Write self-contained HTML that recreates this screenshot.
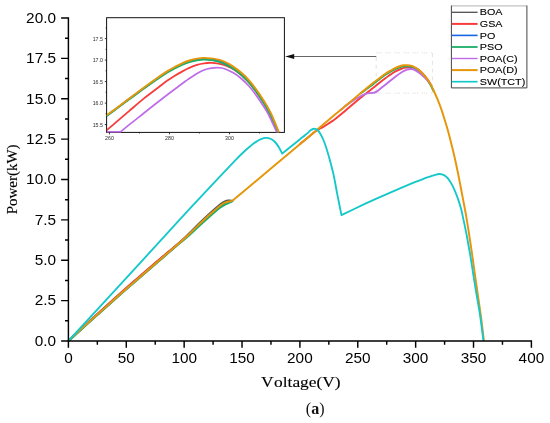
<!DOCTYPE html>
<html lang="en"><head><meta charset="utf-8"><title>P-V curves (a)</title>
<style>
html,body{margin:0;padding:0;background:#fff;}
body{width:550px;height:423px;overflow:hidden;position:relative;}
</style></head><body>
<svg width="550" height="423" viewBox="0 0 550 423" style="position:absolute;left:0;top:0">
<defs><clipPath id="insclip"><rect x="106.6" y="17.7" width="177.8" height="115.0"/></clipPath><clipPath id="mainclip"><rect x="60" y="0" width="480" height="341.2"/></clipPath></defs>
<rect x="0" y="0" width="550" height="423" fill="#fff"/>
<path d="M376.3 52.8H432.4M376.3 93.1H432.4" fill="none" stroke="#dadada" stroke-width="0.8" stroke-dasharray="1.3 0.8 1.3 0.8 1.3 3.6"/>
<path d="M376.2 57V93M432.4 53V93" fill="none" stroke="#dadada" stroke-width="0.8" stroke-dasharray="4 3.8"/>
<g clip-path="url(#mainclip)">
<path d="M68.4 340.6 C72.3 337.0 83.9 326.3 92.0 319.0 C100.1 311.7 109.7 303.1 117.0 296.6 C124.3 290.1 129.7 285.5 136.0 280.0 C142.3 274.5 149.7 268.2 155.0 263.6 C160.3 259.0 163.8 256.0 168.0 252.4 C172.2 248.8 176.6 245.1 180.2 241.9 C183.8 238.7 186.5 235.9 189.3 233.2 C192.1 230.5 193.6 228.8 197.0 225.5 C200.4 222.2 206.2 216.8 210.0 213.3 C213.8 209.8 217.6 206.6 220.0 204.6 C222.4 202.6 223.2 202.3 224.5 201.6 C225.8 200.9 226.9 200.7 228.0 200.5 C229.1 200.3 230.2 200.6 231.0 200.6 C231.8 200.6 232.2 200.6 232.5 200.6" stroke="#505050" stroke-width="1.95" fill="none" stroke-linejoin="round" stroke-linecap="butt"/>
<path d="M68.4 341.0 C72.3 337.3 83.9 326.5 92.0 319.0 C100.1 311.5 109.7 302.8 117.0 296.2 C124.3 289.6 129.7 284.9 136.0 279.4 C142.3 273.9 149.7 267.6 155.0 263.0 C160.3 258.4 163.8 255.6 168.0 252.1 C172.2 248.6 176.6 245.0 180.2 242.0 C183.8 239.0 187.8 235.3 189.3 234.0 M300.0 144.1 C302.3 142.2 311.0 134.8 314.0 132.4 C317.0 130.0 316.7 130.4 318.0 129.6 C319.3 128.8 320.7 128.3 322.0 127.6 C323.3 126.9 324.7 126.0 326.0 125.2 C327.3 124.4 328.8 123.3 330.0 122.6 C331.2 121.8 332.5 121.0 333.0 120.7 C333.8 120.0 336.0 118.4 338.0 116.8 C340.0 115.2 341.3 114.1 345.0 111.0 C348.7 107.9 355.0 102.3 360.0 98.2 C365.0 94.1 370.8 89.7 375.0 86.4 C379.2 83.1 382.5 80.4 385.0 78.5 C387.5 76.6 388.3 76.1 390.0 74.9 C391.7 73.8 393.0 72.7 395.0 71.6 C397.0 70.5 400.0 69.2 402.0 68.5 C404.0 67.8 405.5 67.7 407.0 67.5 C408.5 67.3 409.7 67.2 411.0 67.3 C412.3 67.4 413.5 67.4 415.0 68.0 C416.5 68.6 418.3 69.6 420.0 71.0 C421.7 72.4 423.3 74.2 425.0 76.2 C426.7 78.2 429.2 82.0 430.0 83.2" stroke="#F83C3C" stroke-width="1.95" fill="none" stroke-linejoin="round" stroke-linecap="butt"/>
<path d="M68.4 341.2 C72.3 337.6 83.9 326.9 92.0 319.6 C100.1 312.3 109.7 303.7 117.0 297.2 C124.3 290.7 129.7 286.1 136.0 280.6 C142.3 275.1 149.7 268.8 155.0 264.2 C160.3 259.6 163.8 256.6 168.0 253.0 C172.2 249.4 176.6 245.6 180.2 242.5 C183.8 239.4 187.8 235.6 189.3 234.2 C190.6 233.0 193.6 230.0 197.0 226.7 C200.4 223.4 206.2 218.1 210.0 214.6 C213.8 211.2 217.5 207.9 220.0 206.0 C222.5 204.1 223.6 203.6 225.0 202.9 C226.4 202.2 227.5 202.0 228.5 201.8 C229.5 201.6 230.3 201.7 231.0 201.5 C231.7 201.3 232.2 201.0 232.5 200.9" stroke="#1566E4" stroke-width="1.95" fill="none" stroke-linejoin="round" stroke-linecap="butt"/>
<path d="M68.4 341.5 C72.3 337.9 83.9 327.2 92.0 319.9 C100.1 312.6 109.7 304.0 117.0 297.5 C124.3 291.0 129.7 286.4 136.0 280.9 C142.3 275.4 149.7 269.1 155.0 264.5 C160.3 259.9 163.8 256.9 168.0 253.3 C172.2 249.7 176.6 245.8 180.2 242.8 C183.8 239.8 186.5 237.6 189.3 235.2 C192.1 232.8 193.6 231.2 197.0 228.1 C200.4 224.9 206.2 219.7 210.0 216.3 C213.8 212.9 217.4 209.8 220.0 207.8 C222.6 205.8 223.9 205.2 225.5 204.4 C227.1 203.6 228.4 203.2 229.5 202.7 C230.6 202.2 231.3 201.9 232.0 201.5 C232.7 201.1 233.2 200.5 233.5 200.3 M360.2 93.6 C361.9 92.4 367.9 88.1 370.4 86.3 C372.9 84.5 373.4 83.8 375.1 82.5 C376.8 81.2 378.7 79.8 380.4 78.5 C382.1 77.2 383.4 76.1 385.1 75.0 C386.8 73.9 388.8 72.7 390.5 71.7 C392.2 70.7 393.4 69.9 395.1 69.1 C396.8 68.3 399.0 67.5 400.5 67.0 C402.0 66.5 403.0 66.4 404.1 66.3 C405.2 66.2 406.1 66.2 407.1 66.2 C408.1 66.2 409.1 66.3 410.1 66.5 C411.1 66.7 412.0 66.8 413.1 67.3 C414.2 67.8 415.4 68.4 416.6 69.2 C417.8 70.0 418.7 70.7 420.1 72.0 C421.5 73.3 423.4 75.2 425.1 77.2 C426.8 79.2 428.7 81.9 430.1 84.2 C431.5 86.5 433.5 91.2 433.5 91.0 C433.5 90.8 430.6 84.5 430.0 83.2" stroke="#1AAE69" stroke-width="1.95" fill="none" stroke-linejoin="round" stroke-linecap="butt"/>
<path d="M340.1 110.4 C341.1 109.6 344.0 107.1 346.1 105.5 C348.2 103.9 350.6 102.1 353.0 100.6 C355.4 99.1 358.2 97.6 360.2 96.5 C362.2 95.4 363.5 94.8 365.0 94.2 C366.5 93.6 367.5 93.3 369.0 93.1 C370.5 92.9 373.2 92.8 374.0 92.8 C374.5 92.6 376.0 92.0 377.0 91.4 C378.0 90.8 378.7 90.1 380.0 89.0 C381.3 87.9 383.3 86.3 385.0 85.0 C386.7 83.7 388.3 82.3 390.0 81.0 C391.7 79.7 393.0 78.5 395.0 77.0 C397.0 75.5 400.0 73.2 402.0 72.0 C404.0 70.8 405.5 70.1 407.0 69.6 C408.5 69.1 409.7 68.9 411.0 69.0 C412.3 69.1 413.5 69.3 415.0 70.0 C416.5 70.7 418.5 72.3 420.0 73.4 C421.5 74.5 422.8 75.7 424.0 76.8 C425.2 77.9 426.0 78.7 427.0 79.8 C428.0 80.9 429.5 82.7 430.0 83.3" stroke="#BE6CE8" stroke-width="1.95" fill="none" stroke-linejoin="round" stroke-linecap="butt"/>
<path d="M68.4 341.0 C72.3 337.4 83.9 326.7 92.0 319.4 C100.1 312.1 109.7 303.5 117.0 297.0 C124.3 290.5 129.7 285.9 136.0 280.4 C142.3 274.9 149.7 268.6 155.0 264.0 C160.3 259.4 163.8 256.4 168.0 252.8 C172.2 249.2 176.6 245.4 180.2 242.3 C183.8 239.2 187.8 235.4 189.3 234.0 C190.6 232.7 193.6 229.7 197.0 226.4 C200.4 223.1 206.2 217.8 210.0 214.3 C213.8 210.9 217.5 207.6 220.0 205.7 C222.5 203.8 223.6 203.3 225.0 202.6 C226.4 201.9 227.5 201.7 228.5 201.5 C229.5 201.3 230.3 201.3 231.0 201.2 C231.7 201.0 232.2 200.7 232.5 200.6 C234.6 198.9 234.4 199.2 245.0 190.3 C255.6 181.4 283.5 157.9 296.0 147.4 C308.5 136.9 313.5 132.7 320.0 127.2 C326.5 121.7 330.8 118.0 335.0 114.5 C339.2 111.0 340.8 109.8 345.0 106.3 C349.2 102.8 356.0 97.1 360.2 93.6 C364.4 90.1 367.8 87.3 370.3 85.3 C372.8 83.3 373.3 82.8 375.0 81.5 C376.7 80.2 378.6 78.8 380.3 77.5 C382.0 76.2 383.3 75.1 385.0 74.0 C386.7 72.9 388.7 71.7 390.4 70.7 C392.1 69.7 393.3 68.9 395.0 68.1 C396.7 67.3 398.9 66.5 400.4 66.0 C401.9 65.5 402.9 65.4 404.0 65.3 C405.1 65.2 406.0 65.2 407.0 65.2 C408.0 65.2 409.0 65.3 410.0 65.5 C411.0 65.7 411.9 65.8 413.0 66.3 C414.1 66.8 415.3 67.4 416.5 68.2 C417.7 69.0 418.6 69.7 420.0 71.0 C421.4 72.3 423.3 74.2 425.0 76.2 C426.7 78.2 428.6 80.9 430.0 83.2 C431.4 85.5 432.1 87.2 433.4 90.0 C434.7 92.8 436.5 96.8 437.9 100.2 C439.3 103.6 440.5 107.0 441.7 110.4 C442.9 113.8 443.8 117.1 444.9 120.6 C446.0 124.1 447.1 127.5 448.1 131.2 C449.1 134.8 450.0 138.4 451.0 142.5 C452.0 146.6 453.2 151.3 454.3 156.0 C455.4 160.7 456.4 165.3 457.5 170.7 C458.6 176.1 460.0 183.2 461.0 188.5 C462.0 193.8 462.8 198.1 463.7 202.8 C464.6 207.5 465.5 212.2 466.3 216.8 C467.1 221.4 467.9 226.2 468.5 230.3 C469.1 234.4 469.5 236.9 470.2 241.5 C470.9 246.1 471.8 252.2 472.6 257.9 C473.4 263.6 474.3 270.0 475.1 275.8 C475.9 281.6 476.6 285.9 477.5 292.5 C478.4 299.1 479.7 307.4 480.8 315.5 C481.9 323.6 483.4 336.8 483.9 341.0" stroke="#E6960A" stroke-width="1.95" fill="none" stroke-linejoin="round" stroke-linecap="butt"/>
<path d="M68.4 341.0 C81.2 327.1 126.6 277.7 145.0 257.6 C163.4 237.5 169.0 231.3 179.0 220.4 C189.0 209.5 197.3 200.6 205.0 192.4 C212.7 184.2 220.0 176.5 225.0 171.2 C230.0 165.9 231.7 164.0 235.0 160.6 C238.3 157.2 242.3 153.3 245.0 150.8 C247.7 148.3 249.2 147.1 251.0 145.6 C252.8 144.1 254.3 143.0 256.0 141.9 C257.7 140.8 259.3 139.9 261.0 139.2 C262.7 138.5 264.3 137.9 266.0 137.9 C267.7 137.9 269.5 138.3 271.0 139.0 C272.5 139.7 273.7 140.6 275.0 142.0 C276.3 143.4 277.8 145.6 279.0 147.5 C280.2 149.4 281.7 152.6 282.2 153.6 C283.5 152.5 287.0 149.6 290.0 147.2 C293.0 144.8 297.5 141.2 300.0 139.2 C302.5 137.2 303.7 136.3 305.0 135.2 C306.3 134.1 307.0 133.5 308.0 132.7 C309.0 131.8 310.2 130.7 311.0 130.1 C311.8 129.5 312.4 129.2 313.0 129.0 C313.6 128.8 314.0 128.7 314.5 128.7 C315.0 128.7 315.5 128.8 316.0 129.0 C316.5 129.2 316.8 129.3 317.5 130.0 C318.2 130.7 319.1 131.7 320.0 133.2 C320.9 134.7 322.0 136.7 323.0 139.0 C324.0 141.3 325.0 144.0 326.0 147.0 C327.0 150.0 328.1 153.8 329.0 157.0 C329.9 160.2 330.6 163.0 331.5 166.4 C332.4 169.8 333.2 172.7 334.1 177.2 C335.0 181.7 336.2 188.6 337.1 193.3 C338.0 198.0 338.8 201.7 339.5 205.3 C340.2 209.0 341.2 213.5 341.5 215.2 C343.8 214.1 349.6 211.2 355.2 208.5 C360.8 205.8 368.6 202.2 375.3 199.2 C382.0 196.2 388.7 193.3 395.4 190.4 C402.1 187.5 410.6 183.9 415.5 181.9 C420.4 179.9 422.6 179.1 425.0 178.2 C427.4 177.3 428.3 177.2 430.0 176.6 C431.7 176.0 433.5 175.2 435.1 174.8 C436.7 174.4 438.1 173.9 439.6 174.0 C441.1 174.1 442.6 174.4 444.0 175.1 C445.4 175.8 446.6 176.8 447.9 178.3 C449.2 179.8 450.6 182.2 451.7 184.1 C452.8 186.0 453.2 187.1 454.3 189.6 C455.4 192.1 456.9 195.6 458.0 198.9 C459.1 202.2 460.2 205.6 461.2 209.2 C462.1 212.8 462.8 216.7 463.7 220.7 C464.6 224.7 465.6 229.8 466.3 233.4 C467.0 237.0 467.3 238.4 468.0 242.5 C468.7 246.6 469.8 252.3 470.7 257.9 C471.6 263.4 472.6 270.0 473.5 275.8 C474.4 281.6 475.1 285.9 476.2 292.5 C477.3 299.1 478.9 307.4 480.1 315.5 C481.3 323.6 482.9 336.8 483.5 341.0" stroke="#14C8CA" stroke-width="1.85" fill="none" stroke-linejoin="round" stroke-linecap="butt"/>
</g>
<rect x="106.6" y="17.7" width="177.8" height="114.7" fill="#fff" stroke="none"/>
<rect x="106.6" y="17.7" width="177.8" height="114.7" fill="none" stroke="#111" stroke-width="1.0"/>
<g clip-path="url(#insclip)">
<path d="M106.6 130.4 C107.9 129.2 110.9 126.7 114.7 123.4 C118.5 120.2 124.4 115.1 129.3 110.9 C134.2 106.7 139.1 102.4 144.0 98.4 C148.9 94.5 154.8 90.1 158.6 87.2 C162.4 84.3 164.4 82.6 167.0 80.8 C169.6 79.0 171.5 77.7 174.0 76.2 C176.5 74.7 179.4 73.0 182.0 71.6 C184.6 70.2 186.8 69.0 189.3 67.9 C191.8 66.8 194.6 65.7 197.0 64.9 C199.4 64.1 201.6 63.6 204.0 63.3 C206.4 62.9 208.9 62.7 211.3 62.8 C213.7 62.9 216.2 63.2 218.6 63.7 C221.0 64.2 224.0 65.1 225.9 65.7 C227.8 66.3 228.5 66.8 230.0 67.5 C231.5 68.2 232.7 68.6 234.7 70.0 C236.7 71.4 239.6 73.5 242.0 75.7 C244.4 77.9 246.9 80.1 249.3 82.9 C251.7 85.7 254.2 89.0 256.6 92.4 C259.1 95.8 261.9 100.2 264.0 103.5 C266.1 106.8 267.3 109.3 268.9 112.5 C270.5 115.7 272.3 119.1 273.8 122.4 C275.3 125.7 277.3 130.7 278.0 132.4" stroke="#F83C3C" stroke-width="1.8" fill="none" stroke-linejoin="round" stroke-linecap="butt"/>
<path d="M106.6 115.7 C107.9 114.7 110.9 112.6 114.7 109.8 C118.5 107.0 124.4 102.4 129.3 98.8 C134.2 95.2 139.1 91.5 144.0 88.0 C148.9 84.5 154.8 80.3 158.6 77.6 C162.4 74.9 164.3 73.7 167.0 72.0 C169.7 70.3 172.2 69.0 174.7 67.7 C177.2 66.4 179.6 65.1 182.0 64.0 C184.4 62.9 186.8 62.1 189.3 61.3 C191.8 60.5 194.6 59.8 197.0 59.4 C199.4 59.0 201.6 58.7 204.0 58.7 C206.4 58.7 208.9 58.9 211.3 59.2 C213.7 59.5 216.2 59.9 218.6 60.6 C221.0 61.3 223.3 62.2 225.9 63.5 C228.5 64.8 231.3 66.4 234.0 68.2 C236.7 70.0 239.4 72.2 242.0 74.4 C244.6 76.7 246.9 78.9 249.3 81.7 C251.7 84.5 254.2 87.7 256.6 91.1 C259.1 94.5 261.8 98.7 264.0 102.2 C266.2 105.8 268.0 109.1 269.7 112.4 C271.4 115.8 272.9 119.0 274.3 122.3 C275.8 125.6 277.7 130.7 278.4 132.4" stroke="#1566E4" stroke-width="1.8" fill="none" stroke-linejoin="round" stroke-linecap="butt"/>
<path d="M106.6 116.1 C107.9 115.1 110.9 113.0 114.7 110.2 C118.5 107.4 124.4 102.9 129.3 99.3 C134.2 95.7 139.1 92.0 144.0 88.5 C148.9 85.0 154.8 80.8 158.6 78.2 C162.4 75.6 164.3 74.3 167.0 72.7 C169.7 71.1 172.2 69.7 174.7 68.4 C177.2 67.1 179.6 65.8 182.0 64.8 C184.4 63.8 186.8 62.9 189.3 62.1 C191.8 61.4 194.6 60.7 197.0 60.3 C199.4 59.9 201.6 59.6 204.0 59.6 C206.4 59.6 208.9 59.7 211.3 60.0 C213.7 60.3 216.2 60.8 218.6 61.6 C221.0 62.4 223.2 63.2 225.9 64.6 C228.6 65.9 232.0 67.9 234.7 69.7 C237.4 71.5 239.6 73.4 242.0 75.6 C244.4 77.8 246.9 80.0 249.3 82.8 C251.7 85.6 254.2 88.9 256.6 92.3 C259.1 95.7 261.9 100.1 264.0 103.4 C266.1 106.8 267.3 109.2 268.9 112.4 C270.5 115.6 272.3 119.0 273.8 122.3 C275.3 125.6 277.3 130.7 278.0 132.4" stroke="#1AAE69" stroke-width="1.9" fill="none" stroke-linejoin="round" stroke-linecap="butt"/>
<path d="M106.6 131.9 C108.9 131.9 118.2 131.9 120.5 131.9 C122.0 130.7 125.4 127.9 129.3 124.7 C133.2 121.5 139.1 116.9 144.0 113.0 C148.9 109.1 153.7 105.3 158.6 101.5 C163.5 97.7 168.9 93.6 173.3 90.3 C177.7 87.0 182.3 83.5 185.0 81.5 C187.7 79.5 187.4 79.8 189.3 78.5 C191.2 77.2 194.2 75.1 196.6 73.7 C199.0 72.3 201.6 70.9 204.0 70.0 C206.4 69.1 209.1 68.6 211.3 68.2 C213.5 67.8 215.3 67.7 217.1 67.7 C218.9 67.7 220.5 67.8 222.0 68.0 C223.5 68.2 224.0 68.4 225.9 69.2 C227.8 70.0 231.0 71.4 233.3 72.8 C235.7 74.2 237.3 75.2 240.0 77.5 C242.7 79.8 246.5 83.4 249.3 86.5 C252.1 89.6 254.2 92.6 256.6 96.0 C259.1 99.4 262.2 104.3 264.0 107.0 C265.8 109.7 265.9 109.9 267.3 112.4 C268.7 115.0 270.6 119.0 272.2 122.3 C273.8 125.6 276.1 130.7 276.9 132.4" stroke="#BE6CE8" stroke-width="1.7" fill="none" stroke-linejoin="round" stroke-linecap="butt"/>
<path d="M106.6 115.3 C107.9 114.3 110.9 112.2 114.7 109.4 C118.5 106.6 124.4 102.1 129.3 98.4 C134.2 94.8 139.1 91.1 144.0 87.5 C148.9 83.9 154.8 79.7 158.6 77.0 C162.4 74.3 164.3 73.1 167.0 71.4 C169.7 69.7 172.2 68.3 174.7 67.0 C177.2 65.7 179.6 64.4 182.0 63.3 C184.4 62.2 186.8 61.3 189.3 60.5 C191.8 59.7 194.6 59.0 197.0 58.6 C199.4 58.2 201.6 57.9 204.0 57.9 C206.4 57.9 208.9 58.1 211.3 58.4 C213.7 58.7 216.2 59.0 218.6 59.7 C221.0 60.4 223.4 61.2 225.9 62.4 C228.4 63.5 230.6 64.8 233.3 66.6 C236.0 68.4 239.3 71.0 242.0 73.3 C244.7 75.6 246.9 77.8 249.3 80.6 C251.7 83.4 254.2 86.6 256.6 90.0 C259.1 93.4 261.7 97.3 264.0 101.0 C266.3 104.7 268.7 108.9 270.5 112.4 C272.3 116.0 273.5 119.0 274.9 122.3 C276.3 125.6 278.2 130.7 278.9 132.4" stroke="#E6960A" stroke-width="1.9" fill="none" stroke-linejoin="round" stroke-linecap="butt"/>
</g>
<path d="M104.8 38.6H106.6M105.6 27.9H106.6M104.8 60.1H106.6M105.6 49.4H106.6M104.8 81.6H106.6M105.6 70.8H106.6M104.8 103.1H106.6M105.6 92.3H106.6M104.8 124.6H106.6M105.6 113.8H106.6M105.6 124.7H106.6M109.5 132.4V134.4M139.5 132.4V133.5M169.5 132.4V134.4M199.5 132.4V133.5M229.5 132.4V134.4M259.5 132.4V133.5" stroke="#111" stroke-width="0.8" fill="none"/>
<g font-family="Liberation Sans, Arial, sans-serif" font-size="4.6" fill="#2a2a2a">
<text transform="translate(102.9 40.5) scale(1.15 1)" text-anchor="end">17.5</text>
<text transform="translate(102.9 62.0) scale(1.15 1)" text-anchor="end">17.0</text>
<text transform="translate(102.9 83.5) scale(1.15 1)" text-anchor="end">16.5</text>
<text transform="translate(102.9 105.0) scale(1.15 1)" text-anchor="end">16.0</text>
<text transform="translate(102.9 126.5) scale(1.15 1)" text-anchor="end">15.5</text>
<text transform="translate(109.5 140.2) scale(1.15 1)" text-anchor="middle">260</text>
<text transform="translate(169.5 140.2) scale(1.15 1)" text-anchor="middle">280</text>
<text transform="translate(229.5 140.2) scale(1.15 1)" text-anchor="middle">300</text>
</g>
<path d="M294 56.5H376.3" stroke="#555" stroke-width="0.9" fill="none"/>
<path d="M285.2 56.5L294.2 54.0V59.0Z" fill="#111"/>
<path d="M68.4 17.3V341.0H532.1M61.1 18.00H68.4M65 38.19H68.4M61.1 58.38H68.4M65 78.56H68.4M61.1 98.75H68.4M65 118.94H68.4M61.1 139.12H68.4M65 159.31H68.4M61.1 179.50H68.4M65 199.69H68.4M61.1 219.88H68.4M65 240.06H68.4M61.1 260.25H68.4M65 280.44H68.4M61.1 300.62H68.4M65 320.81H68.4M61.1 341.00H68.4M68.40 341.0V347.8M97.34 341.0V344.8M126.28 341.0V347.8M155.22 341.0V344.8M184.15 341.0V347.8M213.09 341.0V344.8M242.03 341.0V347.8M270.97 341.0V344.8M299.90 341.0V347.8M328.84 341.0V344.8M357.77 341.0V347.8M386.71 341.0V344.8M415.65 341.0V347.8M444.59 341.0V344.8M473.52 341.0V347.8M502.46 341.0V344.8M531.40 341.0V347.8" stroke="#000" stroke-width="1.45" fill="none" stroke-linecap="butt"/>
<g font-family="Liberation Sans, Arial, sans-serif" font-size="14.1" fill="#000">
<text transform="translate(56.0 22.7) scale(1.09 1)" text-anchor="end">20.0</text>
<text transform="translate(56.0 63.1) scale(1.09 1)" text-anchor="end">17.5</text>
<text transform="translate(56.0 103.5) scale(1.09 1)" text-anchor="end">15.0</text>
<text transform="translate(56.0 143.8) scale(1.09 1)" text-anchor="end">12.5</text>
<text transform="translate(56.0 184.2) scale(1.09 1)" text-anchor="end">10.0</text>
<text transform="translate(56.0 224.6) scale(1.09 1)" text-anchor="end">7.5</text>
<text transform="translate(56.0 264.9) scale(1.09 1)" text-anchor="end">5.0</text>
<text transform="translate(56.0 305.3) scale(1.09 1)" text-anchor="end">2.5</text>
<text transform="translate(56.0 345.7) scale(1.09 1)" text-anchor="end">0.0</text>
<text transform="translate(68.4 363) scale(1.09 1)" text-anchor="middle">0</text>
<text transform="translate(126.3 363) scale(1.09 1)" text-anchor="middle">50</text>
<text transform="translate(184.2 363) scale(1.09 1)" text-anchor="middle">100</text>
<text transform="translate(242.0 363) scale(1.09 1)" text-anchor="middle">150</text>
<text transform="translate(299.9 363) scale(1.09 1)" text-anchor="middle">200</text>
<text transform="translate(357.8 363) scale(1.09 1)" text-anchor="middle">250</text>
<text transform="translate(415.6 363) scale(1.09 1)" text-anchor="middle">300</text>
<text transform="translate(473.5 363) scale(1.09 1)" text-anchor="middle">350</text>
<text transform="translate(531.4 363) scale(1.09 1)" text-anchor="middle">400</text>
</g>
<text transform="translate(261.0 387.0) scale(1.2 1)" style="font-kerning:none" font-family="Liberation Serif, Times New Roman, serif" font-size="14.5" fill="#000" stroke="#000" stroke-width="0.12">V<tspan dx="0.4">oltage(V)</tspan></text>
<text transform="translate(17.3 179.4) rotate(-90) scale(1 1.03)" text-anchor="middle" font-family="Liberation Serif, Times New Roman, serif" font-size="15" fill="#000" stroke="#000" stroke-width="0.12">Power(kW)</text>
<text x="315.2" y="414" text-anchor="middle" font-family="Liberation Serif, Times New Roman, serif" font-size="16" fill="#111">(<tspan font-weight="bold">a</tspan>)</text>
<rect x="451.2" y="5.7" width="75.8" height="82.2" fill="#fff" stroke="none"/>
<path d="M451.2 5.9H527" stroke="#a8a8a8" stroke-width="0.9" fill="none"/>
<path d="M451.4 5.6V87.9H526.9V5.6" stroke="#3a3a3a" stroke-width="0.95" fill="none"/>
<g font-family="Liberation Sans, Arial, sans-serif" font-size="9.9" fill="#000" stroke="#000" stroke-width="0.12">
<path d="M451.8 12.3H477.6" stroke="#505050" stroke-width="1.3" fill="none"/>
<text transform="translate(479.8 15.4) scale(1.09 1)" stroke-width="0.12">BOA</text>
<path d="M451.8 23.9H477.6" stroke="#F83C3C" stroke-width="2.0" fill="none"/>
<text transform="translate(479.8 27.0) scale(1.09 1)" stroke-width="0.12">GSA</text>
<path d="M451.8 35.4H477.6" stroke="#1566E4" stroke-width="1.6" fill="none"/>
<text transform="translate(479.8 38.5) scale(1.09 1)" stroke-width="0.12">PO</text>
<path d="M451.8 47.0H477.6" stroke="#1AAE69" stroke-width="1.8" fill="none"/>
<text transform="translate(479.8 50.1) scale(1.09 1)" stroke-width="0.12">PSO</text>
<path d="M451.8 58.5H477.6" stroke="#BE6CE8" stroke-width="1.4" fill="none"/>
<text transform="translate(479.8 61.6) scale(1.09 1)" stroke-width="0.12">POA(C)</text>
<path d="M451.8 70.1H477.6" stroke="#E6960A" stroke-width="2.0" fill="none"/>
<text transform="translate(479.8 73.2) scale(1.09 1)" stroke-width="0.12">POA(D)</text>
<path d="M451.8 81.7H477.6" stroke="#14C8CA" stroke-width="1.7" fill="none"/>
<text transform="translate(479.8 84.8) scale(1.09 1)" stroke-width="0.12">SW(TCT)</text>
</g>
</svg>
</body></html>
